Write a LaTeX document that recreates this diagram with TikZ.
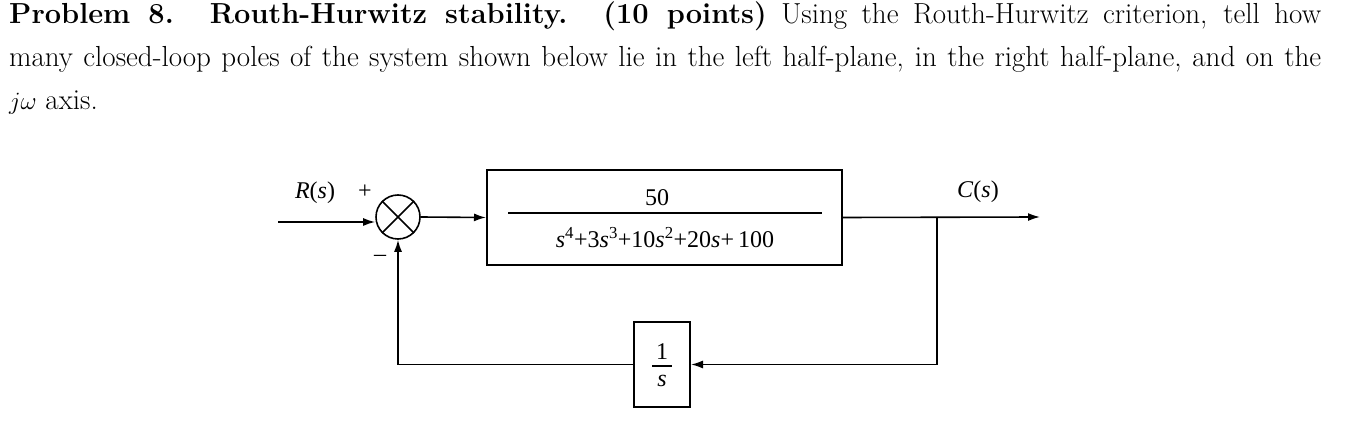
\documentclass[tikz,border=0pt]{standalone}
\usepackage{fontspec}
\newfontfamily\tms{Liberation Serif}
\usetikzlibrary{arrows.meta}
\newcommand{\vs}{\textit{s}}
\begin{document}
\begin{tikzpicture}[x=1pt,y=-1pt,
  blk/.style={draw,line width=2pt,inner sep=0pt},
  sig/.style={line width=1.6pt,-{Latex[length=12pt,width=8pt]}},
  dt/.style={font=\tms\fontsize{24}{28}\selectfont,inner sep=0pt}]
\useasboundingbox (0,0) rectangle (1355,435);
\node[anchor=north west,inner sep=0pt,text width=1312pt,align=justify,font=\fontsize{29}{43}\selectfont] (txt) at (9,2)
{\textbf{Problem 8. Routh-Hurwitz stability. (10 points)} Using the Routh-Hurwitz criterion, tell how many closed-loop poles of the system shown below lie in the left half-plane, in the right half-plane, and on the\linebreak $j\omega$ axis.};
\node[blk,minimum width=355pt,minimum height=95pt] (G) at (664.5,217.5) {};
\node[dt] (num) at (657,198) {50};
\node[dt] (den) at (665,238) {\vs\textsuperscript{4}+3\vs\textsuperscript{3}+10\vs\textsuperscript{2}+20\vs+\,100};
\draw[line width=1.6pt] (508,213) -- (822,213);
\node[blk,minimum width=56pt,minimum height=85pt] (H) at (662,364.5) {};
\node[dt] at (662,352) {1};
\node[dt] at (662,381) {\vs};
\draw[line width=1.4pt] (652,366) -- (672,366);
\node[draw,circle,line width=1.6pt,minimum size=44pt,inner sep=0pt] (S) at (398,217) {};
\draw[line width=1.6pt] (S.north west) -- (S.south east) (S.north east) -- (S.south west);
\coordinate (in) at (278,222);
\draw[sig] (in) -- (S.west |- in);
\draw[sig] (S.east) -- (G.west);
\coordinate (out) at (1040,217);
\draw[sig] (G.east) -- (out);
\coordinate (br) at (937,217);
\draw[sig] (br) |- (H.east);
\draw[sig] (H.west) -| (S.south);
\node[dt] at (315,193) {\textit{R}(\vs)};
\node[dt] at (365,192) {+};
\node[dt] at (380,258) {\textendash};
\node[dt] at (978,192) {\textit{C}(\vs)};
\end{tikzpicture}
\end{document}
